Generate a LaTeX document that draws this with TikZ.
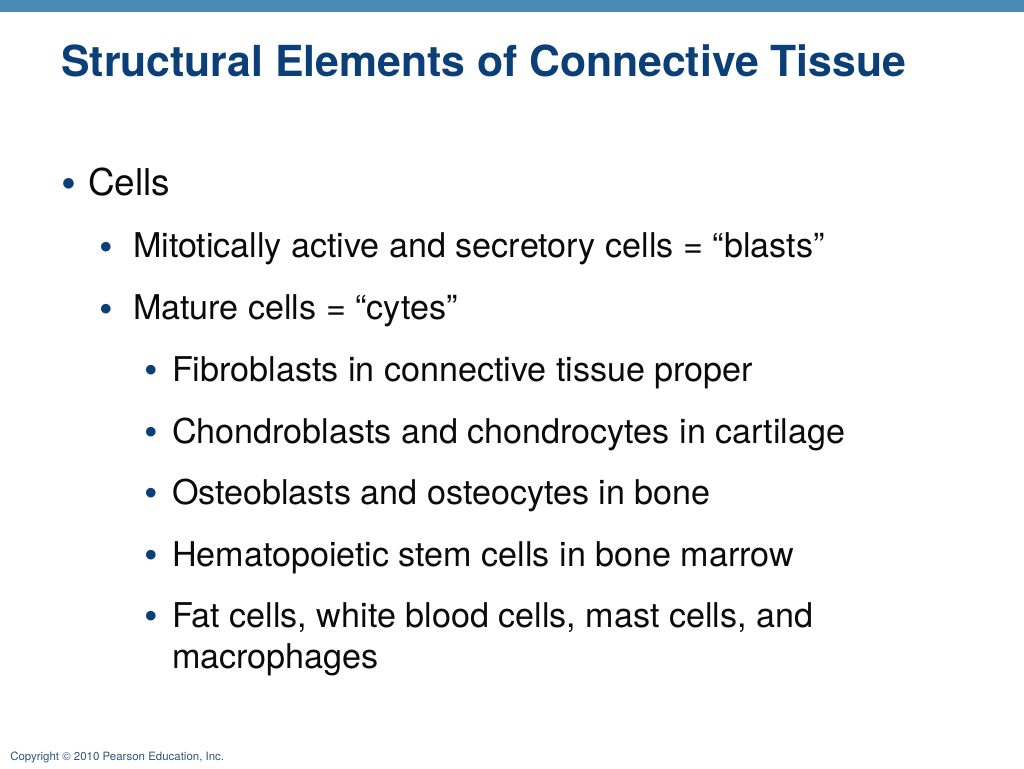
\documentclass[tikz,border=0pt]{standalone}
\usepackage{fontspec}
\setmainfont{TeX Gyre Heros}
\definecolor{topbar}{HTML}{4A8AB5}
\definecolor{titleblue}{HTML}{0B3F78}
\definecolor{bodyk}{HTML}{0A0A0A}
\definecolor{footblue}{HTML}{2F5580}
\tikzset{
  txt/.style={anchor=base west,inner sep=0pt,outer sep=0pt,text=bodyk},
  bul/.style={anchor=center,inner sep=0pt,outer sep=0pt,text=titleblue},
}
\newcommand{\szA}{\fontsize{32pt}{30pt}\selectfont}
\newcommand{\szC}{\fontsize{29pt}{30pt}\selectfont}
\newcommand{\szB}{\fontsize{25.6pt}{30pt}\selectfont}
\begin{document}
\begin{tikzpicture}[x=0.75pt,y=-0.75pt]
\useasboundingbox (0,0) rectangle (1024,768);
\fill[white] (0,0) rectangle (1024,768);
\fill[topbar] (0,0) rectangle (1024,12);
\node[anchor=base west,inner sep=0pt,text=titleblue,font=\bfseries\fontsize{32.05pt}{34pt}\selectfont] (title) at (61,76) {Structural Elements of Connective Tissue};
\node[bul,font=\szA] (b1) at (69,188) {•};
\node[txt,font=\fontsize{27.7pt}{32pt}\selectfont] (t1) at (88,195) {Cells};
\node[bul,font=\szC] (b2) at (106.5,251) {•};
\node[txt,font=\szB] (t2) at (133,257) {Mitotically active and secretory cells = “blasts”};
\node[bul,font=\szC] (b3) at (106.5,313) {•};
\node[txt,font=\szB] (t3) at (133,319) {Mature cells = “cytes”};
\node[bul,font=\szC] (b4) at (151,374) {•};
\node[txt,font=\szB] (t4) at (172,381) {Fibroblasts in connective tissue proper};
\node[bul,font=\szC] (b5) at (151,436) {•};
\node[txt,font=\szB] (t5) at (172,443) {Chondroblasts and chondrocytes in cartilage};
\node[bul,font=\szC] (b6) at (151,497) {•};
\node[txt,font=\szB] (t6) at (172,504) {Osteoblasts and osteocytes in bone};
\node[bul,font=\szC] (b7) at (151,559) {•};
\node[txt,font=\szB] (t7) at (172,566) {Hematopoietic stem cells in bone marrow};
\node[bul,font=\szC] (b8) at (151,620) {•};
\node[txt,font=\szB] (t8) at (172,627) {Fat cells, white blood cells, mast cells, and};
\node[txt,font=\szB] (t9) at (172,668) {macrophages};
\node[anchor=base west,inner sep=0pt,text=footblue,font=\fontsize{8.6pt}{10pt}\selectfont] (c) at (10,760) {Copyright © 2010 Pearson Education, Inc.};
\end{tikzpicture}
\end{document}
